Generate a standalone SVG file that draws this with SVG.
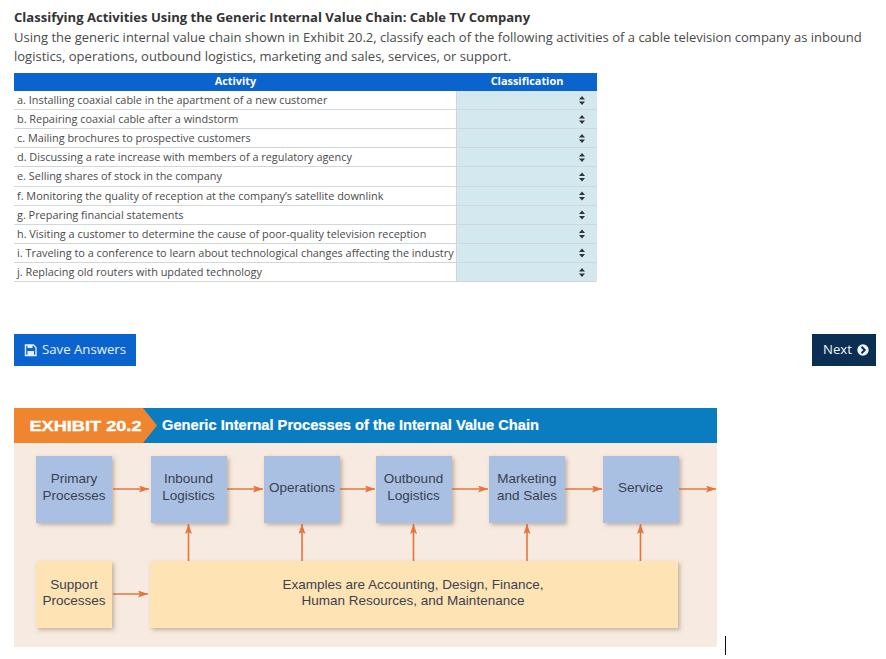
<svg xmlns="http://www.w3.org/2000/svg" width="886" height="659" viewBox="0 0 886 659">
<style>
.os{font-family:"Open Sans","DejaVu Sans",sans-serif}
.ar{font-family:"Liberation Sans",Arial,sans-serif}
.row{font-size:10.9px;fill:#4a4a4a}
.hd{font-size:10.9px;font-weight:700;fill:#fff;text-anchor:middle}
.lb{font-size:13.5px;fill:#3a4150;text-anchor:middle}
.blue{fill:#a9c0e3}
.yel{fill:#fee4b4}
.sh{filter:url(#s)}
.ln{fill:none;stroke:#e8743b;stroke-width:1.6;marker-end:url(#a)}
.cell{fill:#d3e8ef}
.rl{stroke:#d2d8da;stroke-width:1}
.sp{fill:#333}
</style>
<defs>
<filter id="s" x="-20%" y="-20%" width="140%" height="140%"><feDropShadow dx="2" dy="2" stdDeviation="2" flood-color="#8a7660" flood-opacity=".5"/></filter>
<marker id="a" viewBox="0 0 10 7" refX="10" refY="3.500" markerWidth="10" markerHeight="7" markerUnits="userSpaceOnUse" orient="auto"><path d="M0 0L10 3.500L0 7L2 3.500Z" fill="#e8743b"/></marker>
<g id="spin"><path class="sp" d="M-3 -1L0 -4.400L3 -1ZM-3 1L0 4.400L3 1Z"/></g>
</defs>
<rect width="886" height="659" fill="#fff"/>
<g id="heading" class="os">
<text x="14" y="22" font-size="13.050" font-weight="700" fill="#333">Classifying Activities Using the Generic Internal Value Chain: Cable TV Company</text>
<text x="14" y="42" font-size="13.030" fill="#4a4a4a">Using the generic internal value chain shown in Exhibit 20.2, classify each of the following activities of a cable television company as inbound</text>
<text x="14" y="61" font-size="13.030" fill="#4a4a4a">logistics, operations, outbound logistics, marketing and sales, services, or support.</text>
</g>
<g id="table" class="os">
<rect x="14" y="73" width="583" height="18" fill="#0b63ce"/>
<text class="hd" x="235.500" y="85">Activity</text>
<text class="hd" x="527" y="85">Classification</text>
<rect class="cell" x="457" y="91" width="140" height="191"/>
<g>
<line class="rl" x1="14" x2="597" y1="109.500" y2="109.500"/>
<line class="rl" x1="14" x2="597" y1="128.500" y2="128.500"/>
<line class="rl" x1="14" x2="597" y1="147.500" y2="147.500"/>
<line class="rl" x1="14" x2="597" y1="166.500" y2="166.500"/>
<line class="rl" x1="14" x2="597" y1="186.500" y2="186.500"/>
<line class="rl" x1="14" x2="597" y1="205.500" y2="205.500"/>
<line class="rl" x1="14" x2="597" y1="224.500" y2="224.500"/>
<line class="rl" x1="14" x2="597" y1="243.500" y2="243.500"/>
<line class="rl" x1="14" x2="597" y1="262.500" y2="262.500"/>
<line class="rl" x1="14" x2="597" y1="281.500" y2="281.500"/>
<line class="rl" x1="456.500" x2="456.500" y1="91" y2="282"/>
</g>
<text class="row" x="17" y="104">a. Installing coaxial cable in the apartment of a new customer</text>
<text class="row" x="17" y="123">b. Repairing coaxial cable after a windstorm</text>
<text class="row" x="17" y="142">c. Mailing brochures to prospective customers</text>
<text class="row" x="17" y="161">d. Discussing a rate increase with members of a regulatory agency</text>
<text class="row" x="17" y="180">e. Selling shares of stock in the company</text>
<text class="row" x="17" y="200">f. Monitoring the quality of reception at the company’s satellite downlink</text>
<text class="row" x="17" y="219">g. Preparing financial statements</text>
<text class="row" x="17" y="238">h. Visiting a customer to determine the cause of poor-quality television reception</text>
<text class="row" x="17" y="257">i. Traveling to a conference to learn about technological changes affecting the industry</text>
<text class="row" x="17" y="276">j. Replacing old routers with updated technology</text>
<use href="#spin" x="582" y="100.500"/>
<use href="#spin" x="582" y="119.500"/>
<use href="#spin" x="582" y="138.500"/>
<use href="#spin" x="582" y="157.500"/>
<use href="#spin" x="582" y="177"/>
<use href="#spin" x="582" y="196"/>
<use href="#spin" x="582" y="215"/>
<use href="#spin" x="582" y="234"/>
<use href="#spin" x="582" y="253"/>
<use href="#spin" x="582" y="272.500"/>
</g>
<g id="save-answers" class="os">
<rect x="14" y="334" width="122" height="32" fill="#0b63ce"/>
<path d="M25.500 345h8l2.500 2.500v8h-10.500Z" fill="none" stroke="#e8f0fb" stroke-width="1.400"/>
<rect x="27.500" y="345" width="5" height="3" fill="#e8f0fb"/>
<rect x="27.500" y="351" width="6.500" height="4" fill="#e8f0fb"/>
<text x="42" y="354" font-size="13.200" fill="#e8f0fb">Save Answers</text>
</g>
<g id="next" class="os">
<rect x="812" y="334" width="64" height="32" fill="#0a2f52"/>
<text x="823" y="354" font-size="13.200" fill="#f2f5f8">Next</text>
<circle cx="863" cy="350" r="5.700" fill="#f2f5f8"/>
<path d="M861.500 346.800L864.700 350L861.500 353.200" fill="none" stroke="#0a2f52" stroke-width="2"/>
</g>
<g id="exhibit-frame">
<rect x="14" y="443" width="703" height="204" fill="#f7eae0"/>
<rect x="14" y="408" width="703" height="35" fill="#0a7cc0"/>
<path d="M14 408H143L157 425.500L143 443H14Z" fill="#f0852f"/>
<text class="ar" x="29.500" y="431" font-size="15.500" font-weight="700" fill="#fff" stroke="#fff" stroke-width=".4" textLength="112" lengthAdjust="spacingAndGlyphs">EXHIBIT 20.2</text>
<text class="ar" x="162" y="430" font-size="14.500" font-weight="700" fill="#fff" stroke="#fff" stroke-width=".2" textLength="377" lengthAdjust="spacingAndGlyphs">Generic Internal Processes of the Internal Value Chain</text>
</g>
<g id="connectors">
<path class="ln" d="M113 489H149"/>
<path class="ln" d="M227 489H263"/>
<path class="ln" d="M340 489H375"/>
<path class="ln" d="M452 489H488"/>
<path class="ln" d="M565 489H602"/>
<path class="ln" d="M679 489H716"/>
<path class="ln" d="M113 594H148"/>
<path class="ln" d="M188.500 561V524"/>
<path class="ln" d="M302 561V524"/>
<path class="ln" d="M413.500 561V524"/>
<path class="ln" d="M527 561V524"/>
<path class="ln" d="M640.500 561V524"/>
</g>
<g id="primary-processes" class="ar"><rect class="blue sh" x="36" y="456" width="76" height="67"/><text class="lb" x="74" y="483">Primary</text><text class="lb" x="74" y="500">Processes</text></g>
<g id="inbound-logistics" class="ar"><rect class="blue sh" x="151" y="456" width="76" height="67"/><text class="lb" x="188.500" y="483">Inbound</text><text class="lb" x="188.500" y="500">Logistics</text></g>
<g id="operations" class="ar"><rect class="blue sh" x="264" y="456" width="76" height="67"/><text class="lb" x="302" y="492">Operations</text></g>
<g id="outbound-logistics" class="ar"><rect class="blue sh" x="376" y="456" width="76" height="67"/><text class="lb" x="413.500" y="483">Outbound</text><text class="lb" x="413.500" y="500">Logistics</text></g>
<g id="marketing-and-sales" class="ar"><rect class="blue sh" x="489" y="456" width="76" height="67"/><text class="lb" x="527" y="483">Marketing</text><text class="lb" x="527" y="500">and Sales</text></g>
<g id="service" class="ar"><rect class="blue sh" x="603" y="456" width="76" height="67"/><text class="lb" x="640.500" y="492">Service</text></g>
<g id="support-processes" class="ar"><rect class="yel sh" x="36" y="561" width="76" height="67"/><text class="lb" x="74" y="589">Support</text><text class="lb" x="74" y="605">Processes</text></g>
<g id="examples" class="ar"><rect class="yel sh" x="150" y="561" width="528" height="67"/><text class="lb" x="413" y="589">Examples are Accounting, Design, Finance,</text><text class="lb" x="413" y="605">Human Resources, and Maintenance</text></g>
<line x1="725.500" y1="636" x2="725.500" y2="655" stroke="#111" stroke-width="1"/>
</svg>
